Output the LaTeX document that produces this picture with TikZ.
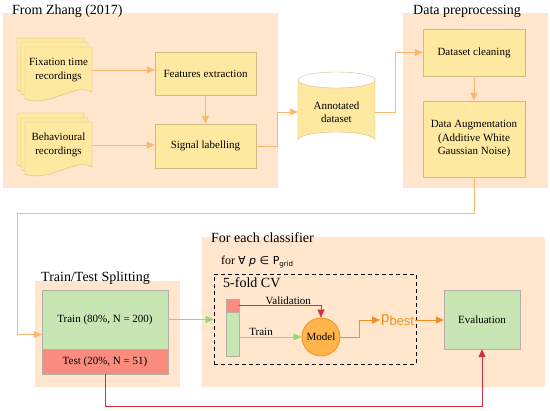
\documentclass[tikz,border=0pt]{standalone}
\usepackage{fontspec}
\setmainfont{Liberation Serif}
\newfontfamily\lsans{Liberation Sans}
\newfontfamily\dvsans{DejaVu Sans}
\usetikzlibrary{positioning,arrows.meta}
\definecolor{panelbg}{HTML}{FFE6CC}
\definecolor{boxfill}{HTML}{FFE9A1}
\definecolor{boxline}{HTML}{CDBB85}
\definecolor{greenfill}{HTML}{C8E6B4}
\definecolor{redfill}{HTML}{F98C7E}
\definecolor{greyline}{HTML}{B4B0A4}
\definecolor{lightorange}{HTML}{FDB870}
\definecolor{darkorange}{HTML}{F0901E}
\definecolor{modelfill}{HTML}{FFB54C}
\definecolor{greenline}{HTML}{98D47A}
\definecolor{redline}{HTML}{D32F3F}

\begin{document}
\begin{tikzpicture}[x=1pt,y=-1pt,>={Triangle[length=8pt,width=7pt]},
	panel/.style={fill=panelbg,draw=none},
	title/.style={anchor=base west,inner sep=0pt,font=\fontsize{14}{16}\selectfont},
	yellowbox/.style={draw=boxline,fill=boxfill,minimum width=101pt,align=center,inner sep=2pt,font=\fontsize{11}{13.5}\selectfont},
	docpage/.style={draw=boxline,fill=boxfill},
	plain/.style={align=center,inner sep=0pt,font=\fontsize{11}{13.5}\selectfont},
	greenbox/.style={draw=greyline,fill=greenfill,align=center,font=\fontsize{11}{13.5}\selectfont},
	redbox/.style={draw=greyline,fill=redfill,align=center,font=\fontsize{11}{13.5}\selectfont},
	orarrow/.style={lightorange,thick,->},
	grarrow/.style={greenline,thick,->},
	rdarrow/.style={redline,thick,->},
	dkarrow/.style={darkorange,thick,->},
	small/.style={inner sep=1pt,text=black,font=\fontsize{11}{13}\selectfont}]
	\useasboundingbox (0,0) rectangle (550,411);
	
	%Panels
	\fill[panel] (3,13) rectangle (278,188);
	\fill[panel] (403,13) rectangle (548,188);
	\fill[panel] (35,281) rectangle (180,387);
	\fill[panel] (202,237) rectangle (545,387);
	\node[title] (zhang) at (12,15) {From Zhang (2017)};
	\node[title] (prep) at (413,15) {Data preprocessing};
	\node[title] (split) at (41,282) {Train/Test Splitting};
	\node[title] (clf) at (211,243) {For each classifier};
	
	%Stacked recordings
	\foreach \dx/\dy in {17/38,21/42,25/47,17/113,21/118,25/122}
	{
		\begin{scope}[shift={(\dx,\dy)}]
			\filldraw[docpage] (0,0) -- (67,0) -- (67,45) .. controls (50,35) and (25,61) .. (0,52) -- cycle;
		\end{scope}
	}
	\node[plain,minimum width=67pt,minimum height=40pt] (fix) at (58.5,70) {Fixation time\\recordings};
	\node[plain,minimum width=67pt,minimum height=40pt] (beh) at (58.5,145) {Behavioural\\recordings};
	
	\node[yellowbox,minimum height=43pt] (feat) at (205.5,73.5) {Features extraction};
	\node[yellowbox,minimum height=44pt] (sig) at (205.5,146) {Signal labelling};
	
	%Annotated dataset cylinder
	\filldraw[docpage] (298,80) -- (298,140) arc (180:360:38.5 and 8) -- (375,80) arc (0:180:38.5 and 8) -- cycle;
	\draw[boxline] (298,80) arc (180:360:38.5 and 8);
	\node[plain,minimum width=77pt,minimum height=40pt] (ann) at (336.5,112) {Annotated\\dataset};
	
	\node[yellowbox,minimum width=102pt,minimum height=47pt] (clean) at (474,52.5) {Dataset cleaning};
	\node[yellowbox,minimum width=102pt,minimum height=76pt] (aug) at (474,139) {Data Augmentation\\(Additive White\\Gaussian Noise)};
	
	%Train/Test
	\node[greenbox,minimum width=126pt,minimum height=59pt] (train) at (105,319.5) {Train (80\%, N = 200)};
	\node[redbox,minimum width=126pt,minimum height=25pt] (test) at (105,361.5) {Test (20\%, N = 51)};
	
	%Classifier loop
	\node[anchor=base west,inner sep=0pt,font=\fontsize{12}{14}\selectfont] (grid) at (221,265)
		{for {\dvsans\fontsize{11}{13}\selectfont ∀ \itshape p\upshape\ ∈ P\raisebox{-2pt}{\fontsize{7}{8}\selectfont grid}}};
	\node[draw,thick,dashed,dash pattern=on 4pt off 3pt,minimum width=202pt,minimum height=90pt] (cv) at (315,319) {};
	\node[title] (fold) at (223,288) {5-fold CV};
	\node[draw=greyline,fill=redfill,minimum width=13pt,minimum height=13pt,inner sep=0pt] (valbar) at (232.5,305.5) {};
	\node[draw=greyline,fill=greenfill,minimum width=13pt,minimum height=44pt,inner sep=0pt] (trbar) at (232.5,334) {};
	\node[circle,draw=darkorange,thick,fill=modelfill,minimum size=38pt,inner sep=0pt,font=\fontsize{11}{13}\selectfont] (model) at (321,337) {Model};
	\node[anchor=west,inner sep=1pt,text=darkorange] (pbest) at (380,320)
		{\lsans\fontsize{15}{17}\selectfont p\raisebox{-3pt}{\fontsize{13}{15}\selectfont best}};
	\node[greenbox,minimum width=76pt,minimum height=59pt] (eval) at (482,319.5) {Evaluation};
	\coordinate (loop) at (17,213);
	\coordinate (bot) at (482,406);
	
	%Connectors
	\draw[orarrow] (fix.east) -- (fix.east -| feat.west);
	\draw[orarrow] (beh.east) -- (beh.east -| sig.west);
	\draw[orarrow] (feat.south) -- (sig.north);
	\draw[orarrow] (sig.east) -- ++(21,0) |- (ann.west);
	\draw[orarrow] (ann.east) -- ++(20,0) |- (clean.west);
	\draw[orarrow] (clean.south) -- (aug.north);
	\draw[orarrow] (aug.south) |- (loop) |- ([yshift=-15pt]train.west);
	\draw[grarrow] (train.east) -- (train.east -| cv.west);
	\draw[rdarrow,thin] (valbar.east) -| (model.north) node[pos=0.3,above,small] (vallab) {Validation};
	\draw[grarrow,thin] (trbar.east |- model.west) -- (model.west) node[pos=0.35,above,small] (trlab) {Train};
	\draw[dkarrow] (model.east) -- ++(19,0) |- (pbest.west);
	\draw[dkarrow] (pbest.east) -- (pbest.east -| eval.west);
	\draw[rdarrow] (test.south) |- (bot) -- (eval.south);
\end{tikzpicture}
\end{document}
